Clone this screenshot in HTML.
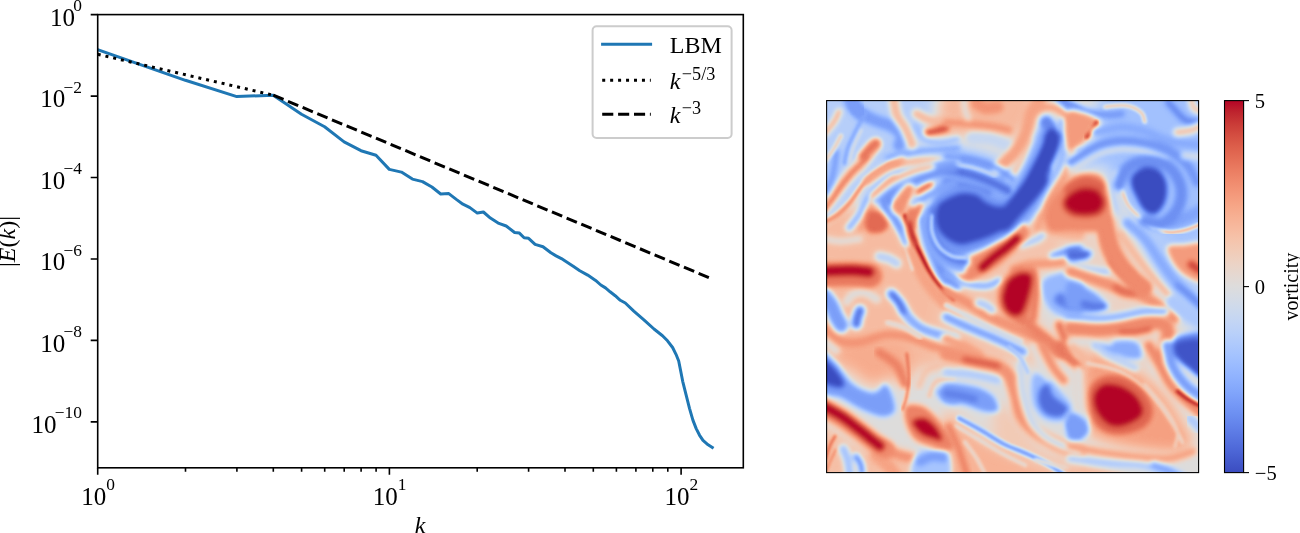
<!DOCTYPE html>
<html><head><meta charset="utf-8"><title>LBM spectrum and vorticity</title>
<style>html,body{margin:0;padding:0;background:#fff;width:1300px;height:533px;overflow:hidden}</style>
</head><body>
<svg width="1300" height="533" viewBox="0 0 1300 533" style="position:absolute;left:0;top:0;font-family:'Liberation Serif','DejaVu Serif',serif">
<rect width="1300" height="533" fill="#fff"/>
<defs><clipPath id="axc"><rect x="97.7" y="14.6" width="645.5999999999999" height="453.2"/></clipPath></defs>
<g clip-path="url(#axc)" fill="none">
<polyline points="97.6,49.7 185.4,80.3 236.8,96.6 273.2,95.2 301.5,114.2 324.6,126.8 344.1,141.9 361.0,150.7 376.0,155.2 389.3,169.4 401.4,172.1 412.4,179.1 422.5,181.6 431.9,187.0 440.7,194.0 448.8,193.6 456.3,199.4 462.9,204.2 469.9,207.6 477.3,213.1 483.4,212.0 490.4,218.1 498.9,223.4 506.2,226.0 514.6,232.5 519.4,233.1 524.1,237.8 528.6,238.3 535.1,244.4 543.0,246.7 550.9,252.8 556.1,255.9 561.4,258.6 566.7,262.0 573.2,266.2 579.8,270.7 587.7,275.1 595.6,280.4 600.8,285.0 605.5,287.9 610.1,291.8 615.2,295.7 620.3,300.3 625.3,303.0 633.8,311.1 643.9,319.8 654.0,329.0 662.5,335.7 667.5,340.8 672.6,347.5 676.0,354.3 678.7,361.0 680.4,369.5 682.7,381.3 686.1,394.8 689.5,408.3 692.9,420.1 696.2,428.6 699.6,435.3 703.0,440.4 708.1,444.8 712.3,447.5" stroke="#1f77b4" stroke-width="3" stroke-linejoin="round" stroke-linecap="square"/>
<line x1="97.7" y1="54.3" x2="273.3" y2="95.2" stroke="#000" stroke-width="3" stroke-dasharray="3 4.95"/>
<line x1="273.3" y1="95.2" x2="712.4" y2="279.1" stroke="#000" stroke-width="3" stroke-dasharray="11.1 4.8"/>
</g>
<rect x="97.7" y="14.6" width="645.6" height="453.2" fill="none" stroke="#000" stroke-width="1.6"/>
<path d="M97.7 467.8v7M185.5 467.8v4M236.9 467.8v4M273.3 467.8v4M301.6 467.8v4M324.7 467.8v4M344.2 467.8v4M361.1 467.8v4M376.1 467.8v4M389.4 467.8v7M477.2 467.8v4M528.6 467.8v4M565.0 467.8v4M593.3 467.8v4M616.4 467.8v4M635.9 467.8v4M652.8 467.8v4M667.8 467.8v4M681.1 467.8v7" stroke="#000" stroke-width="1.6" fill="none"/>
<path d="M97.7 14.6h-7M97.7 96.1h-7M97.7 177.5h-7M97.7 259.0h-7M97.7 340.4h-7M97.7 421.9h-7" stroke="#000" stroke-width="1.6" fill="none"/>
<text x="81.9" y="25.7" font-size="25" text-anchor="end">10<tspan font-size="17.4" dy="-14.6" dx="-1.8">0</tspan></text>
<text x="81.9" y="107.2" font-size="25" text-anchor="end">10<tspan font-size="17.4" dy="-14.6" dx="-1.8">−2</tspan></text>
<text x="81.9" y="188.6" font-size="25" text-anchor="end">10<tspan font-size="17.4" dy="-14.6" dx="-1.8">−4</tspan></text>
<text x="81.9" y="270.1" font-size="25" text-anchor="end">10<tspan font-size="17.4" dy="-14.6" dx="-1.8">−6</tspan></text>
<text x="81.9" y="351.5" font-size="25" text-anchor="end">10<tspan font-size="17.4" dy="-14.6" dx="-1.8">−8</tspan></text>
<text x="81.9" y="433.0" font-size="25" text-anchor="end">10<tspan font-size="17.4" dy="-14.6" dx="-1.8">−10</tspan></text>
<text x="98.0" y="504.6" font-size="25" text-anchor="middle">10<tspan font-size="17.4" dy="-14.4">0</tspan></text>
<text x="389.7" y="504.6" font-size="25" text-anchor="middle">10<tspan font-size="17.4" dy="-14.4">1</tspan></text>
<text x="681.4" y="504.6" font-size="25" text-anchor="middle">10<tspan font-size="17.4" dy="-14.4">2</tspan></text>
<text x="420.2" y="532.5" font-size="24" font-style="italic" text-anchor="middle">k</text>
<text transform="translate(15.2,241.5) rotate(-90)" font-size="24" text-anchor="middle">|<tspan font-style="italic">E</tspan>(<tspan font-style="italic">k</tspan>)|</text>
<rect x="592.6" y="26.3" width="139" height="111.7" rx="4" ry="4" fill="#fff" fill-opacity="0.8" stroke="#ccc" stroke-width="2"/>
<line x1="602.6" y1="44.2" x2="650.6" y2="44.2" stroke="#1f77b4" stroke-width="3" stroke-linecap="square"/>
<line x1="602.2" y1="80.2" x2="650.8" y2="80.2" stroke="#000" stroke-width="3" stroke-dasharray="3 4.95"/>
<line x1="602.2" y1="114.3" x2="650.8" y2="114.3" stroke="#000" stroke-width="3" stroke-dasharray="11.1 4.8"/>
<text x="669.8" y="52.6" font-size="24">LBM</text>
<text x="669.8" y="88.6" font-size="24"><tspan font-style="italic">k</tspan><tspan font-size="18.2" dy="-8.8" dx="1.4">−5/3</tspan></text>
<text x="669.8" y="122.6" font-size="24"><tspan font-style="italic">k</tspan><tspan font-size="18.2" dy="-8.8" dx="1.4">−3</tspan></text>
<defs>
<filter id="cm" x="0" y="0" width="1" height="1" color-interpolation-filters="sRGB"><feComponentTransfer><feFuncR type="table" tableValues="0.2298 0.2664 0.3042 0.3433 0.3837 0.4252 0.4677 0.5108 0.5543 0.5978 0.6408 0.6831 0.7240 0.7634 0.8006 0.8353 0.8674 0.8995 0.9256 0.9455 0.9595 0.9675 0.9697 0.9660 0.9567 0.9417 0.9214 0.8959 0.8654 0.8302 0.7906 0.7468 0.7057"/><feFuncG type="table" tableValues="0.2987 0.3533 0.4069 0.4594 0.5102 0.5591 0.6056 0.6494 0.6901 0.7273 0.7608 0.7900 0.8149 0.8351 0.8504 0.8605 0.8644 0.8475 0.8255 0.7986 0.7670 0.7308 0.6905 0.6461 0.5980 0.5464 0.4914 0.4331 0.3711 0.3047 0.2314 0.1400 0.0156"/><feFuncB type="table" tableValues="0.7537 0.8016 0.8453 0.8841 0.9178 0.9461 0.9685 0.9851 0.9955 0.9998 0.9978 0.9898 0.9757 0.9557 0.9300 0.8990 0.8626 0.8178 0.7711 0.7231 0.6741 0.6247 0.5751 0.5259 0.4773 0.4297 0.3834 0.3387 0.2958 0.2549 0.2162 0.1800 0.1502"/></feComponentTransfer></filter>
<filter id="b1" x="-50%" y="-50%" width="200%" height="200%" color-interpolation-filters="sRGB"><feGaussianBlur stdDeviation="1"/></filter>
<filter id="b2" x="-50%" y="-50%" width="200%" height="200%" color-interpolation-filters="sRGB"><feGaussianBlur stdDeviation="2"/></filter>
<filter id="b3" x="-50%" y="-50%" width="200%" height="200%" color-interpolation-filters="sRGB"><feGaussianBlur stdDeviation="3"/></filter>
<filter id="b4" x="-50%" y="-50%" width="200%" height="200%" color-interpolation-filters="sRGB"><feGaussianBlur stdDeviation="4"/></filter>
<filter id="b6" x="-50%" y="-50%" width="200%" height="200%" color-interpolation-filters="sRGB"><feGaussianBlur stdDeviation="6"/></filter>
<filter id="b8" x="-50%" y="-50%" width="200%" height="200%" color-interpolation-filters="sRGB"><feGaussianBlur stdDeviation="8"/></filter>
<filter id="b12" x="-50%" y="-50%" width="200%" height="200%" color-interpolation-filters="sRGB"><feGaussianBlur stdDeviation="12"/></filter>
<filter id="b16" x="-50%" y="-50%" width="200%" height="200%" color-interpolation-filters="sRGB"><feGaussianBlur stdDeviation="16"/></filter>
<linearGradient id="cbg" x1="0" y1="0" x2="0" y2="1"><stop offset="0.0000" stop-color="rgb(180,4,38)"/><stop offset="0.0312" stop-color="rgb(190,36,46)"/><stop offset="0.0625" stop-color="rgb(202,59,55)"/><stop offset="0.0938" stop-color="rgb(212,78,65)"/><stop offset="0.1250" stop-color="rgb(221,95,75)"/><stop offset="0.1562" stop-color="rgb(228,110,86)"/><stop offset="0.1875" stop-color="rgb(235,125,98)"/><stop offset="0.2188" stop-color="rgb(240,139,110)"/><stop offset="0.2500" stop-color="rgb(244,152,122)"/><stop offset="0.2812" stop-color="rgb(246,165,134)"/><stop offset="0.3125" stop-color="rgb(247,176,147)"/><stop offset="0.3438" stop-color="rgb(247,186,159)"/><stop offset="0.3750" stop-color="rgb(245,196,172)"/><stop offset="0.4062" stop-color="rgb(241,204,184)"/><stop offset="0.4375" stop-color="rgb(236,211,197)"/><stop offset="0.4688" stop-color="rgb(229,216,209)"/><stop offset="0.5000" stop-color="rgb(221,220,220)"/><stop offset="0.5312" stop-color="rgb(213,219,229)"/><stop offset="0.5625" stop-color="rgb(204,217,237)"/><stop offset="0.5938" stop-color="rgb(195,213,244)"/><stop offset="0.6250" stop-color="rgb(185,208,249)"/><stop offset="0.6562" stop-color="rgb(174,201,252)"/><stop offset="0.6875" stop-color="rgb(163,194,254)"/><stop offset="0.7188" stop-color="rgb(152,185,255)"/><stop offset="0.7500" stop-color="rgb(141,176,254)"/><stop offset="0.7812" stop-color="rgb(130,166,251)"/><stop offset="0.8125" stop-color="rgb(119,154,247)"/><stop offset="0.8438" stop-color="rgb(108,143,241)"/><stop offset="0.8750" stop-color="rgb(98,130,234)"/><stop offset="0.9062" stop-color="rgb(88,117,225)"/><stop offset="0.9375" stop-color="rgb(78,104,216)"/><stop offset="0.9688" stop-color="rgb(68,90,204)"/><stop offset="1.0000" stop-color="rgb(59,76,192)"/></linearGradient>
</defs>
<svg x="826.6" y="100.6" width="372.0" height="372.0" viewBox="0 0 372 372" overflow="hidden">
<g filter="url(#cm)">
<rect x="-40" y="-40" width="452" height="452" fill="#808080"/>
<defs><filter id="z1_6" x="-20%" y="-20%" width="140%" height="140%" color-interpolation-filters="sRGB"><feGaussianBlur stdDeviation="1.6"/></filter><filter id="z2_8" x="-20%" y="-20%" width="140%" height="140%" color-interpolation-filters="sRGB"><feGaussianBlur stdDeviation="2.8"/></filter><filter id="z7" x="-20%" y="-20%" width="140%" height="140%" color-interpolation-filters="sRGB"><feGaussianBlur stdDeviation="7"/></filter></defs>
<g filter="url(#z7)">
<path d="M-13.6 -13.6C6.2 -37.6 86.5 -21.7 105.1 -13.6C123.7 -5.4 102.8 23.3 98.1 35.3C93.5 47.3 85.7 51.6 77.2 58.6C68.6 65.5 57.4 68.3 46.9 77.2C36.5 86.1 24.4 103.2 14.4 112.1C4.3 121.0 -8.9 151.6 -13.6 130.7C-18.2 109.7 -33.3 10.5 -13.6 -13.6Z" fill="#5e5e5e"/>
<path d="M-8.9 117.4C9.3 93.8 80.7 108.5 100.4 117.4C120.2 126.3 103.9 157.0 109.7 170.9C115.6 184.9 131.1 186.4 135.3 201.2C139.6 215.9 159.4 249.6 135.3 259.3C111.3 269.0 15.1 283.0 -8.9 259.3C-32.9 235.7 -27.1 141.1 -8.9 117.4Z" fill="#a6a6a6"/>
<path d="M9.7 241.4C17.5 236.0 62.4 237.9 74.8 241.4C87.3 244.9 83.0 255.4 84.2 262.4C85.3 269.3 85.6 280.7 81.8 283.3C78.0 285.9 67.0 277.8 61.4 278.2C55.7 278.6 53.6 286.3 48.1 285.6C42.6 284.9 34.7 281.4 28.3 274.0C21.9 266.6 2.0 246.8 9.7 241.4Z" fill="#b2b2b2"/>
<path d="M-6.6 325.2C0.4 319.7 21.3 341.8 35.3 346.1C49.3 350.4 67.5 345.3 77.2 350.8C86.9 356.2 107.4 374.0 93.5 378.7C79.5 383.3 10.1 387.6 -6.6 378.7C-23.3 369.8 -13.6 330.6 -6.6 325.2Z" fill="#a3a3a3"/>
<path d="M117.4 -8.9C131.8 -15.9 189.5 -14.3 203.5 -8.9C217.5 -3.5 204.7 15.9 201.2 23.7C197.7 31.4 191.5 35.7 182.6 37.6C173.6 39.6 158.5 36.1 147.7 35.3C136.8 34.5 122.5 40.3 117.4 33.0C112.4 25.6 103.1 -1.9 117.4 -8.9Z" fill="#a8a8a8"/>
<path d="M115.1 53.9C121.3 44.8 140.7 50.0 152.3 52.7C163.9 55.5 177.9 62.6 184.9 70.2C191.9 77.8 196.5 91.1 194.2 98.1C191.9 105.1 184.1 110.5 170.9 112.1C157.7 113.6 124.4 117.1 115.1 107.4C105.8 97.7 108.9 63.0 115.1 53.9Z" fill="#3d3d3d"/>
<path d="M138.4 166.3C151.2 155.0 174.0 125.6 194.2 117.4C214.4 109.3 248.5 108.5 259.3 117.4C270.2 126.3 267.1 162.0 259.3 170.9C251.6 179.8 220.6 162.4 212.8 170.9C205.1 179.5 205.1 208.2 212.8 222.1C220.6 236.1 275.2 248.5 259.3 254.7C243.4 260.9 141.1 271.0 117.4 259.3C93.8 247.7 113.9 200.4 117.4 184.9C120.9 169.4 125.6 177.5 138.4 166.3Z" fill="#9e9e9e"/>
<path d="M117.4 314.7C120.9 304.6 131.0 318.4 138.4 322.8C145.7 327.3 153.1 335.6 161.6 341.5C170.2 347.3 180.2 353.9 189.5 357.7C198.8 361.6 206.6 363.6 217.5 364.7C228.3 365.9 248.5 361.6 254.7 364.7C260.9 367.8 277.6 380.2 254.7 383.3C231.8 386.4 140.3 394.8 117.4 383.3C94.5 371.9 113.9 324.8 117.4 314.7Z" fill="#adadad"/>
<path d="M170.9 301.9C175.6 298.8 186.4 310.8 194.2 318.2C201.9 325.6 207.4 339.9 217.5 346.1C227.5 352.3 248.5 350.0 254.7 355.4C260.9 360.8 264.8 377.9 254.7 378.7C244.6 379.5 208.9 367.0 194.2 360.1C179.5 353.1 170.2 346.5 166.3 336.8C162.4 327.1 166.3 305.0 170.9 301.9Z" fill="#999999"/>
<path d="M278.6 -8.9C297.3 -16.3 365.9 -32.9 383.3 -8.9C400.8 15.1 399.6 111.3 383.3 135.3C367.0 159.4 302.3 146.2 285.6 135.3C269.0 124.5 290.3 81.8 283.3 70.2C276.3 58.6 245.7 71.4 243.7 65.5C241.8 59.7 265.8 47.7 271.7 35.3C277.5 22.9 260.0 -1.5 278.6 -8.9Z" fill="#4f4f4f"/>
<path d="M241.4 117.4C251.9 107.3 290.3 108.5 304.2 117.4C318.2 126.3 317.0 154.3 325.2 170.9C333.3 187.6 349.2 202.7 353.1 217.5C357.0 232.2 367.0 252.4 348.4 259.3C329.8 266.3 259.3 266.3 241.4 259.3C223.6 252.4 234.4 227.2 241.4 217.5C248.4 207.8 283.3 207.8 283.3 201.2C283.3 194.6 248.4 191.9 241.4 177.9C234.4 163.9 231.0 127.5 241.4 117.4Z" fill="#8f8f8f"/>
<path d="M304.2 117.4C304.2 108.5 312.0 104.6 325.2 117.4C338.4 130.2 373.6 175.2 383.3 194.2C393.0 213.2 388.8 227.5 383.3 231.4C377.9 235.3 360.5 227.5 350.8 217.5C341.1 207.4 332.9 187.6 325.2 170.9C317.4 154.3 304.2 126.3 304.2 117.4Z" fill="#5c5c5c"/>
<path d="M255.4 260.0C257.8 253.2 265.1 253.6 271.7 254.2C278.3 254.8 287.2 260.0 294.9 263.5C302.7 267.0 310.4 269.3 318.2 275.2C325.9 281.0 334.9 290.1 341.5 298.4C348.0 306.8 353.7 317.8 357.7 325.2C361.8 332.5 367.0 338.2 365.9 342.6C364.7 347.1 358.7 350.8 350.8 351.9C342.8 353.1 329.4 351.2 318.2 349.6C306.9 348.0 292.8 345.7 283.3 342.6C273.8 339.5 265.5 338.9 261.2 331.0C256.9 323.0 258.2 306.8 257.2 294.9C256.3 283.1 253.0 266.8 255.4 260.0Z" fill="#bababa"/>
</g>
<g filter="url(#z2_8)">
<path d="M48.1 44.6C46.0 47.5 39.4 57.4 35.3 62.3C31.2 67.2 27.5 69.5 23.7 73.9C19.8 78.4 16.3 82.9 12.0 89.0C7.8 95.2 0.4 107.3 -1.9 110.9" fill="none" stroke="#a8a8a8" stroke-width="12.6" stroke-linecap="round" stroke-linejoin="round"/>
</g>
<g filter="url(#z1_6)">
<path d="M39.9 56.2C39.2 57.2 38.0 59.3 35.3 62.3C32.6 65.2 27.5 69.5 23.7 73.9C19.8 78.4 16.3 82.9 12.0 89.0C7.8 95.2 0.4 107.3 -1.9 110.9" fill="none" stroke="#c7c7c7" stroke-width="5.0" stroke-linecap="round" stroke-linejoin="round"/>
</g>
<g filter="url(#z2_8)">
<path d="M130.7 47.6C124.5 48.1 103.5 49.2 93.5 50.4C83.4 51.7 76.4 53.5 70.2 55.1C64.0 56.6 58.6 58.9 56.2 59.7" fill="none" stroke="#3d3d3d" stroke-width="7.5" stroke-linecap="round" stroke-linejoin="round"/>
<path d="M56.2 59.7C53.9 62.1 46.7 69.6 42.3 73.9C37.8 78.2 33.9 81.1 29.5 85.5C25.0 90.0 20.8 95.0 15.5 100.7C10.3 106.3 1.0 116.4 -1.9 119.5" fill="none" stroke="#616161" stroke-width="6.3" stroke-linecap="round" stroke-linejoin="round"/>
<path d="M130.7 59.7C124.5 59.8 103.5 59.9 93.5 60.4C83.4 60.9 75.4 62.1 70.2 62.7C65.0 63.4 63.6 64.3 62.3 64.6" fill="none" stroke="#a8a8a8" stroke-width="6.3" stroke-linecap="round" stroke-linejoin="round"/>
</g>
<g filter="url(#z1_6)">
<path d="M70.2 62.7C68.9 63.1 66.2 62.7 62.3 64.6C58.4 66.5 51.4 70.4 46.9 73.9C42.4 77.4 39.2 80.9 35.3 85.5C31.4 90.2 27.5 97.2 23.7 101.8C19.8 106.5 16.3 110.1 12.0 113.5C7.8 116.8 0.4 120.4 -1.9 121.8" fill="none" stroke="#c2c2c2" stroke-width="5.0" stroke-linecap="round" stroke-linejoin="round"/>
</g>
<g filter="url(#z2_8)">
<path d="M130.7 70.2C124.5 70.4 103.5 70.9 93.5 71.4C83.4 71.8 75.4 72.4 70.2 73.0C65.0 73.6 64.6 74.0 62.3 75.1C60.0 76.2 58.8 77.4 56.2 79.7C53.7 82.1 49.8 85.5 46.9 89.0C44.0 92.5 41.1 96.6 38.8 100.7C36.5 104.7 35.7 109.0 33.0 113.5C30.3 117.9 24.2 124.9 22.5 127.2" fill="none" stroke="#424242" stroke-width="6.9" stroke-linecap="round" stroke-linejoin="round"/>
<path d="M55.1 94.6C56.1 94.9 60.2 94.9 61.4 96.2C62.6 97.6 62.1 101.7 62.3 102.8" fill="none" stroke="#1f1f1f" stroke-width="7.5" stroke-linecap="round" stroke-linejoin="round"/>
<path d="M67.9 78.3C66.9 79.0 65.2 79.3 62.3 82.1C59.4 84.8 53.6 90.4 50.4 94.9C47.3 99.3 46.2 103.4 43.4 108.8C40.7 114.2 35.7 124.1 34.1 127.2" fill="none" stroke="#bababa" stroke-width="7.5" stroke-linecap="round" stroke-linejoin="round"/>
<path d="M-0.8 91.1C0.2 89.0 3.5 83.4 5.1 78.6C6.6 73.8 7.8 66.8 8.5 62.3C9.3 57.8 9.5 53.4 9.7 51.6" fill="none" stroke="#333333" stroke-width="6.9" stroke-linecap="round" stroke-linejoin="round"/>
<path d="M21.3 -4.3C22.9 -1.9 26.4 5.8 30.6 9.7C34.9 13.6 41.1 16.3 46.9 19.0C52.7 21.7 60.8 23.3 65.5 26.0C70.3 28.7 74.1 32.2 75.3 35.3C76.5 38.4 73.0 43.1 72.5 44.6" fill="none" stroke="#333333" stroke-width="12.6" stroke-linecap="round" stroke-linejoin="round"/>
<path d="M66.7 -4.3C67.3 -1.2 68.3 9.1 70.2 14.4C72.1 19.6 75.8 22.3 78.3 27.2C80.9 32.0 84.2 40.7 85.3 43.4" fill="none" stroke="#a6a6a6" stroke-width="10.1" stroke-linecap="round" stroke-linejoin="round"/>
<path d="M90.0 13.2C92.5 14.4 98.3 19.0 105.1 20.2C111.9 21.3 126.4 20.2 130.7 20.2" fill="none" stroke="#a6a6a6" stroke-width="9.4" stroke-linecap="round" stroke-linejoin="round"/>
<path d="M101.6 31.8C103.2 31.5 108.0 30.8 110.9 30.2C113.8 29.5 117.7 28.2 119.0 27.9" fill="none" stroke="#e6e6e6" stroke-width="8.2" stroke-linecap="round" stroke-linejoin="round"/>
<path d="M88.8 26.0C90.4 28.1 94.2 36.1 98.1 38.8C102.0 41.5 106.6 42.3 112.1 42.3C117.5 42.3 127.6 39.4 130.7 38.8" fill="none" stroke="#4c4c4c" stroke-width="6.3" stroke-linecap="round" stroke-linejoin="round"/>
<path d="M49.7 42.7C48.9 43.4 46.8 44.8 44.6 46.9C42.4 49.1 37.8 54.3 36.5 55.8" fill="none" stroke="#d4d4d4" stroke-width="9.4" stroke-linecap="round" stroke-linejoin="round"/>
<path d="M103.9 83.7C103.0 84.2 100.0 85.6 98.1 86.9C96.2 88.3 93.3 90.8 92.3 91.6" fill="none" stroke="#dbdbdb" stroke-width="5.7" stroke-linecap="round" stroke-linejoin="round"/>
<path d="M78.3 94.6C77.8 96.0 76.2 99.9 74.8 102.8C73.5 105.7 71.0 110.5 70.2 112.1" fill="none" stroke="#c2c2c2" stroke-width="11.9" stroke-linecap="round" stroke-linejoin="round"/>
<path d="M90.0 106.3C89.2 107.6 86.7 110.3 85.3 114.4C84.0 118.5 82.4 128.0 81.8 130.7" fill="none" stroke="#cccccc" stroke-width="10.7" stroke-linecap="round" stroke-linejoin="round"/>
<path d="M-1.9 33.0C-0.3 31.0 5.4 24.6 7.8 20.9C10.2 17.2 11.7 12.5 12.5 10.9" fill="none" stroke="#b2b2b2" stroke-width="5.7" stroke-linecap="round" stroke-linejoin="round"/>
</g>
<g filter="url(#z1_6)">
<path d="M38.8 12.0C37.2 14.9 32.4 23.7 29.5 29.5C26.6 35.3 23.3 41.5 21.3 46.9C19.4 52.4 18.4 59.7 17.8 62.3" fill="none" stroke="#3d3d3d" stroke-width="4.4" stroke-linecap="round" stroke-linejoin="round"/>
<path d="M34.6 29.5C33.2 32.4 28.4 41.5 26.5 46.9C24.5 52.4 23.4 59.7 22.7 62.3" fill="none" stroke="#7a7a7a" stroke-width="3.1" stroke-linecap="round" stroke-linejoin="round"/>
</g>
<g filter="url(#z2_8)">
<path d="M26.0 0.4C26.8 1.6 29.1 5.4 30.6 7.4C32.2 9.3 34.5 11.3 35.3 12.0" fill="none" stroke="#333333" stroke-width="11.3" stroke-linecap="round" stroke-linejoin="round"/>
</g>
<g filter="url(#z1_6)">
<path d="M-1.9 60.9C-0.4 58.8 4.7 52.4 7.4 48.1C10.1 43.8 13.2 37.4 14.4 35.3" fill="none" stroke="#949494" stroke-width="4.4" stroke-linecap="round" stroke-linejoin="round"/>
</g>
<g filter="url(#z2_8)">
<path d="M24.8 3.9L33.0 14.4" fill="none" stroke="#333333" stroke-width="9.4" stroke-linecap="round" stroke-linejoin="round"/>
<path d="M43.4 123.2C44.6 123.7 48.3 126.1 50.4 126.3C52.6 126.5 55.3 124.7 56.2 124.4" fill="none" stroke="#cccccc" stroke-width="8.8" stroke-linecap="round" stroke-linejoin="round"/>
<path d="M-1.9 138.4C0.8 138.7 8.5 140.7 14.4 140.7C20.2 140.7 29.9 138.7 33.0 138.4" fill="none" stroke="#808080" stroke-width="6.3" stroke-linecap="round" stroke-linejoin="round"/>
<path d="M52.7 155.8C54.3 156.2 59.1 157.0 62.1 158.1C65.0 159.3 68.8 162.0 70.2 162.8" fill="none" stroke="#616161" stroke-width="9.4" stroke-linecap="round" stroke-linejoin="round"/>
</g>
<g filter="url(#z1_6)">
<path d="M69.0 122.1C70.4 124.8 75.0 132.7 77.2 138.4C79.4 144.0 80.7 150.8 82.3 155.8C83.8 160.8 85.8 166.5 86.5 168.6" fill="none" stroke="#4c4c4c" stroke-width="2.8" stroke-linecap="round" stroke-linejoin="round"/>
</g>
<g filter="url(#z2_8)">
<path d="M74.8 122.1C76.8 127.1 82.6 143.0 86.5 152.3C90.4 161.6 93.1 169.8 98.1 177.9C103.2 186.1 111.3 195.4 116.7 201.2C122.2 207.0 128.4 210.9 130.7 212.8" fill="none" stroke="#b8b8b8" stroke-width="12.6" stroke-linecap="round" stroke-linejoin="round"/>
</g>
<g filter="url(#z1_6)">
<path d="M78.3 115.1C79.0 117.4 80.0 123.2 82.3 129.1C84.6 134.9 89.0 143.3 92.3 150.0C95.6 156.7 98.5 163.2 102.1 169.1C105.6 175.0 109.5 180.5 113.7 185.4C117.9 190.2 124.9 196.2 127.2 198.4" fill="none" stroke="#ffffff" stroke-width="4.7" stroke-linecap="round" stroke-linejoin="round"/>
<path d="M90.0 129.1C91.5 132.5 96.0 143.2 99.3 150.0C102.6 156.8 105.1 163.2 109.7 169.8C114.4 176.4 124.3 186.2 127.2 189.5" fill="none" stroke="#858585" stroke-width="2.5" stroke-linecap="round" stroke-linejoin="round"/>
</g>
<g filter="url(#z2_8)">
<path d="M99.3 119.7C100.4 124.4 103.5 139.1 106.3 147.7C109.0 156.2 111.9 164.5 115.6 170.9C119.2 177.3 126.2 183.5 128.4 186.1" fill="none" stroke="#2e2e2e" stroke-width="12.6" stroke-linecap="round" stroke-linejoin="round"/>
<path d="M64.4 193.0C65.8 194.6 70.0 198.3 73.0 202.3C76.0 206.4 78.8 213.3 82.3 217.5C85.8 221.6 88.9 224.4 93.9 227.2C99.0 230.0 106.8 232.3 112.5 234.2C118.3 236.1 125.7 238.1 128.4 238.9" fill="none" stroke="#3d3d3d" stroke-width="10.1" stroke-linecap="round" stroke-linejoin="round"/>
<path d="M66.7 194.2C67.7 195.6 71.0 199.6 72.5 202.3C74.1 205.1 75.4 209.1 76.0 210.5" fill="none" stroke="#1a1a1a" stroke-width="8.2" stroke-linecap="round" stroke-linejoin="round"/>
<path d="M33.4 210.0C33.0 211.3 31.3 215.2 30.6 217.5C30.0 219.7 29.9 222.3 29.7 223.3" fill="none" stroke="#1c1c1c" stroke-width="10.7" stroke-linecap="round" stroke-linejoin="round"/>
<path d="M-5.4 191.9C-3.9 193.8 1.4 199.4 3.9 203.5C6.4 207.6 8.0 212.8 9.7 216.3C11.5 219.8 13.6 223.1 14.4 224.4" fill="none" stroke="#333333" stroke-width="15.7" stroke-linecap="round" stroke-linejoin="round"/>
<path d="M20.2 201.2C21.1 200.0 23.1 195.7 26.0 194.2C28.9 192.6 33.6 191.1 37.6 191.9C41.7 192.6 48.3 197.7 50.4 198.8" fill="none" stroke="#808080" stroke-width="8.2" stroke-linecap="round" stroke-linejoin="round"/>
<path d="M-1.9 227.9C0.8 230.1 8.2 238.5 14.4 240.7C20.6 242.9 27.9 242.3 35.3 241.2C42.7 240.1 50.8 235.0 58.6 234.2C66.3 233.4 74.1 234.7 81.8 236.5C89.6 238.4 97.3 242.9 105.1 245.4C112.8 247.8 124.5 250.2 128.4 251.2" fill="none" stroke="#c2c2c2" stroke-width="8.8" stroke-linecap="round" stroke-linejoin="round"/>
<path d="M-1.9 240.7L9.7 250.0" fill="none" stroke="#808080" stroke-width="7.5" stroke-linecap="round" stroke-linejoin="round"/>
</g>
<g filter="url(#z1_6)">
<path d="M60.9 222.1C63.6 222.9 71.7 224.4 77.2 226.8C82.6 229.1 90.7 234.5 93.5 236.1" fill="none" stroke="#858585" stroke-width="5.0" stroke-linecap="round" stroke-linejoin="round"/>
</g>
<g filter="url(#z2_8)">
<path d="M52.7 251.9C55.7 254.0 65.9 259.5 70.2 264.7C74.5 269.9 77.0 280.2 78.3 283.3" fill="none" stroke="#cccccc" stroke-width="9.4" stroke-linecap="round" stroke-linejoin="round"/>
</g>
<g filter="url(#z1_6)">
<path d="M80.2 253.1C80.5 256.9 82.3 269.1 82.3 276.3C82.3 283.5 81.0 290.7 80.0 296.1C78.9 301.5 76.7 306.8 76.0 308.9" fill="none" stroke="#dbdbdb" stroke-width="2.8" stroke-linecap="round" stroke-linejoin="round"/>
</g>
<g filter="url(#z2_8)">
<path d="M92.3 285.6C93.7 283.0 96.4 273.3 100.4 269.8C104.5 266.3 112.1 265.1 116.7 264.7C121.4 264.3 126.4 267.0 128.4 267.5" fill="none" stroke="#a1a1a1" stroke-width="5.7" stroke-linecap="round" stroke-linejoin="round"/>
</g>
<g filter="url(#z1_6)">
<path d="M102.8 294.9C103.9 292.6 105.7 283.7 109.7 281.0C113.8 278.3 124.3 279.0 127.2 278.6" fill="none" stroke="#999999" stroke-width="5.0" stroke-linecap="round" stroke-linejoin="round"/>
</g>
<g filter="url(#z2_8)">
<path d="M109.3 289.8C110.1 287.4 117.8 286.7 121.4 286.8C124.9 286.9 129.1 287.6 130.7 290.3C132.2 293.0 133.0 301.2 130.7 303.1C128.4 304.9 120.3 303.7 116.7 301.4C113.2 299.2 108.5 292.3 109.3 289.8Z" fill="#3d3d3d"/>
<path d="M-6.6 250.7C-3.9 246.2 4.3 256.5 9.7 261.9C15.1 267.2 19.8 277.9 26.0 282.8C32.2 287.8 41.5 291.6 46.9 291.7C52.4 291.7 55.4 282.8 58.6 283.3C61.7 283.8 64.4 290.4 66.0 294.9C67.6 299.5 70.0 307.2 68.3 310.7C66.7 314.3 61.7 316.6 56.2 316.3C50.7 316.1 42.3 312.5 35.3 309.4C28.3 306.3 21.3 301.1 14.4 297.7C7.4 294.3 -3.1 296.9 -6.6 289.1C-10.1 281.3 -9.3 255.3 -6.6 250.7Z" fill="#333333"/>
<path d="M-6.6 256.5C-4.3 254.6 3.3 262.6 7.4 267.0C11.5 271.5 17.5 280.0 17.8 283.3C18.2 286.6 13.8 287.6 9.7 286.8C5.6 286.0 -3.9 283.7 -6.6 278.6C-9.3 273.6 -8.9 258.5 -6.6 256.5Z" fill="#000000"/>
<path d="M-4.3 297.7C-0.4 299.7 11.3 305.1 19.0 309.4C26.8 313.6 35.3 319.1 42.3 323.3C49.3 327.5 54.9 331.8 60.9 334.5C66.9 337.2 75.4 338.7 78.3 339.6" fill="none" stroke="#808080" stroke-width="6.9" stroke-linecap="round" stroke-linejoin="round"/>
<path d="M52.7 344.2C55.7 345.8 63.4 351.3 70.2 353.6C77.0 355.8 85.7 358.5 93.5 357.7C101.2 357.0 112.8 350.4 116.7 348.9" fill="none" stroke="#c2c2c2" stroke-width="10.7" stroke-linecap="round" stroke-linejoin="round"/>
<path d="M49.3 355.4C51.2 357.0 57.4 361.2 60.9 364.7C64.4 368.2 68.6 374.4 70.2 376.4" fill="none" stroke="#b8b8b8" stroke-width="12.6" stroke-linecap="round" stroke-linejoin="round"/>
</g>
<g filter="url(#z1_6)">
<path d="M-0.8 357.7C0.0 355.4 2.3 347.5 3.9 343.8C5.4 340.1 7.8 337.0 8.5 335.6" fill="none" stroke="#dbdbdb" stroke-width="3.1" stroke-linecap="round" stroke-linejoin="round"/>
<path d="M-0.8 371.7C0.0 369.8 2.1 363.9 3.9 360.1C5.6 356.2 8.7 350.4 9.7 348.4" fill="none" stroke="#cccccc" stroke-width="2.5" stroke-linecap="round" stroke-linejoin="round"/>
</g>
<g filter="url(#z2_8)">
<path d="M16.7 348.4C17.5 350.4 20.2 355.4 21.3 360.1C22.5 364.7 23.3 373.6 23.7 376.4" fill="none" stroke="#525252" stroke-width="9.4" stroke-linecap="round" stroke-linejoin="round"/>
<path d="M29.5 355.9C30.3 357.2 33.2 360.9 34.1 363.6C35.1 366.2 35.1 370.3 35.3 371.7" fill="none" stroke="#1f1f1f" stroke-width="6.3" stroke-linecap="round" stroke-linejoin="round"/>
<path d="M90.0 351.9C93.8 346.9 104.3 348.2 109.7 348.4C115.2 348.6 120.6 348.0 122.5 353.1C124.5 358.1 127.4 374.4 121.4 378.7C115.4 382.9 91.7 383.1 86.5 378.7C81.2 374.2 86.1 357.0 90.0 351.9Z" fill="#525252"/>
<path d="M93.5 361.2C95.4 360.3 101.2 356.5 105.1 355.9C109.0 355.2 114.8 357.0 116.7 357.3" fill="none" stroke="#333333" stroke-width="9.4" stroke-linecap="round" stroke-linejoin="round"/>
<path d="M119.7 21.8C124.4 22.1 139.1 22.9 147.7 23.7C156.2 24.4 165.1 25.5 170.9 26.5C176.7 27.4 180.6 29.0 182.6 29.5" fill="none" stroke="#c2c2c2" stroke-width="6.9" stroke-linecap="round" stroke-linejoin="round"/>
<path d="M150.0 2.7C151.5 3.5 155.8 6.8 159.3 7.4C162.8 8.0 169.0 6.4 170.9 6.2" fill="none" stroke="#c2c2c2" stroke-width="12.6" stroke-linecap="round" stroke-linejoin="round"/>
<path d="M137.2 -1.9C137.4 0.0 137.6 6.4 138.4 9.7C139.1 13.0 141.3 16.5 141.8 17.8" fill="none" stroke="#808080" stroke-width="5.7" stroke-linecap="round" stroke-linejoin="round"/>
<path d="M145.3 37.6C148.4 37.8 158.1 37.6 163.9 38.8C169.8 39.9 177.5 43.6 180.2 44.6" fill="none" stroke="#6b6b6b" stroke-width="12.6" stroke-linecap="round" stroke-linejoin="round"/>
<path d="M170.9 67.9C173.6 65.3 182.6 58.6 187.2 52.7C191.9 46.9 195.9 39.8 198.8 33.0C201.8 26.2 201.9 18.2 204.7 12.0C207.4 5.8 213.4 -1.5 215.1 -4.3" fill="none" stroke="#b8b8b8" stroke-width="12.6" stroke-linecap="round" stroke-linejoin="round"/>
<path d="M183.7 77.2C185.9 74.5 192.8 66.7 196.5 60.9C200.2 55.1 204.3 45.4 205.8 42.3" fill="none" stroke="#9e9e9e" stroke-width="8.2" stroke-linecap="round" stroke-linejoin="round"/>
<path d="M204.7 16.7C206.0 15.3 209.1 10.2 212.8 8.5C216.5 6.9 222.1 5.8 226.8 6.9C231.4 8.1 236.7 12.1 240.7 15.5C244.8 18.9 249.4 25.2 251.2 27.2" fill="none" stroke="#b8b8b8" stroke-width="8.2" stroke-linecap="round" stroke-linejoin="round"/>
<path d="M119.7 56.2C124.4 56.8 139.1 57.8 147.7 59.7C156.2 61.7 164.5 64.8 170.9 67.9C177.3 71.0 183.5 76.6 186.1 78.3" fill="none" stroke="#2e2e2e" stroke-width="6.9" stroke-linecap="round" stroke-linejoin="round"/>
<path d="M119.7 68.3C124.0 69.3 137.6 72.1 145.3 74.4C153.1 76.7 160.3 79.7 166.3 82.3C172.3 84.9 178.9 88.7 181.4 90.0" fill="none" stroke="#141414" stroke-width="7.5" stroke-linecap="round" stroke-linejoin="round"/>
<path d="M119.7 81.8C123.6 82.7 136.0 85.2 143.0 86.9C150.0 88.7 158.5 91.4 161.6 92.3" fill="none" stroke="#242424" stroke-width="6.9" stroke-linecap="round" stroke-linejoin="round"/>
</g>
<g filter="url(#z1_6)">
<path d="M119.7 62.7C124.0 63.4 137.2 64.7 145.3 66.7C153.5 68.7 164.7 73.5 168.6 74.8" fill="none" stroke="#707070" stroke-width="3.1" stroke-linecap="round" stroke-linejoin="round"/>
</g>
<g filter="url(#z2_8)">
<path d="M190.7 86.5C192.8 82.2 199.6 69.4 203.5 60.9C207.4 52.4 211.3 41.9 214.0 35.3C216.7 28.7 218.8 23.7 219.8 21.3" fill="none" stroke="#424242" stroke-width="9.4" stroke-linecap="round" stroke-linejoin="round"/>
<path d="M234.9 22.5C235.3 26.6 238.4 37.8 237.2 46.9C236.1 56.0 231.8 68.3 227.9 77.2C224.0 86.1 219.6 92.1 214.0 100.4C208.3 108.8 197.5 122.7 194.2 127.2" fill="none" stroke="#4c4c4c" stroke-width="8.8" stroke-linecap="round" stroke-linejoin="round"/>
<path d="M251.2 50.4C249.1 54.5 242.9 67.1 238.4 74.8C233.9 82.6 228.9 88.2 224.4 96.9C220.0 105.7 213.8 122.2 211.6 127.2" fill="none" stroke="#b8b8b8" stroke-width="9.4" stroke-linecap="round" stroke-linejoin="round"/>
<path d="M217.5 116.7L229.1 127.2" fill="none" stroke="#b8b8b8" stroke-width="15.7" stroke-linecap="round" stroke-linejoin="round"/>
<path d="M232.6 33.0C233.9 34.1 237.6 37.4 240.7 39.9C243.8 42.5 249.4 46.7 251.2 48.1" fill="none" stroke="#474747" stroke-width="6.9" stroke-linecap="round" stroke-linejoin="round"/>
<path d="M232.6 -3.1C234.3 -1.7 239.8 2.7 243.0 5.1C246.3 7.4 250.8 9.9 252.4 10.9" fill="none" stroke="#292929" stroke-width="9.4" stroke-linecap="round" stroke-linejoin="round"/>
<path d="M194.2 144.2C196.9 143.3 206.8 140.6 210.5 138.8C214.2 137.1 215.3 134.6 216.3 133.7" fill="none" stroke="#575757" stroke-width="6.9" stroke-linecap="round" stroke-linejoin="round"/>
<path d="M226.8 155.8C229.1 154.9 236.5 151.7 240.7 150.5C245.0 149.2 250.4 148.5 252.4 148.1" fill="none" stroke="#333333" stroke-width="8.2" stroke-linecap="round" stroke-linejoin="round"/>
<path d="M219.8 126.7C222.5 127.5 230.6 130.2 236.1 131.4C241.5 132.5 249.6 133.3 252.4 133.7" fill="none" stroke="#adadad" stroke-width="12.6" stroke-linecap="round" stroke-linejoin="round"/>
<path d="M187.2 168.6C189.9 167.8 197.7 164.9 203.5 163.9C209.3 163.0 214.0 163.6 222.1 162.8C230.3 162.0 247.3 159.9 252.4 159.3" fill="none" stroke="#bdbdbd" stroke-width="9.4" stroke-linecap="round" stroke-linejoin="round"/>
<path d="M216.3 180.2C218.9 175.6 227.3 173.4 233.7 172.1C240.1 170.7 251.2 164.7 254.7 172.1C258.2 179.5 258.8 209.3 254.7 216.3C250.6 223.3 236.4 216.7 230.3 214.0C224.1 211.3 220.2 205.6 217.9 200.0C215.6 194.4 213.7 184.9 216.3 180.2Z" fill="#474747"/>
<path d="M233.7 198.8C235.3 199.4 239.6 201.9 243.0 202.3C246.5 202.7 252.7 201.4 254.7 201.2" fill="none" stroke="#1f1f1f" stroke-width="12.6" stroke-linecap="round" stroke-linejoin="round"/>
<path d="M119.7 173.3C122.8 174.8 131.8 180.5 138.4 182.6C145.0 184.6 153.7 185.7 159.3 185.4C164.9 185.0 170.0 181.1 172.1 180.2" fill="none" stroke="#3d3d3d" stroke-width="6.9" stroke-linecap="round" stroke-linejoin="round"/>
<path d="M119.7 190.7C123.6 192.8 135.3 199.0 143.0 203.5C150.8 208.0 157.7 213.1 166.3 217.5C174.8 221.8 185.7 225.6 194.2 229.6C202.7 233.5 211.3 237.4 217.5 241.2C223.7 245.0 229.1 250.5 231.4 252.4" fill="none" stroke="#c2c2c2" stroke-width="10.7" stroke-linecap="round" stroke-linejoin="round"/>
</g>
<g filter="url(#z1_6)">
<path d="M119.7 204.7C123.6 206.6 135.3 212.4 143.0 216.3C150.8 220.2 157.7 223.9 166.3 227.9C174.8 232.0 189.5 238.6 194.2 240.7" fill="none" stroke="#7a7a7a" stroke-width="5.0" stroke-linecap="round" stroke-linejoin="round"/>
</g>
<g filter="url(#z2_8)">
<path d="M119.7 216.3C123.6 218.1 134.5 223.5 143.0 227.2C151.5 231.0 162.0 234.9 170.9 238.9C179.8 242.9 192.3 249.1 196.5 251.2" fill="none" stroke="#383838" stroke-width="9.4" stroke-linecap="round" stroke-linejoin="round"/>
<path d="M119.7 238.4C122.8 239.8 132.9 243.8 138.4 246.5C143.8 249.3 150.0 253.3 152.3 254.7" fill="none" stroke="#b8b8b8" stroke-width="11.3" stroke-linecap="round" stroke-linejoin="round"/>
<path d="M152.3 202.3C153.5 202.7 157.2 203.5 159.3 204.7C161.4 205.8 164.1 208.5 165.1 209.3" fill="none" stroke="#595959" stroke-width="8.2" stroke-linecap="round" stroke-linejoin="round"/>
<path d="M194.2 218.6C196.1 220.1 201.2 223.5 205.8 227.2C210.5 230.9 217.1 236.5 222.1 240.7C227.2 244.9 233.7 250.4 236.1 252.4" fill="none" stroke="#cccccc" stroke-width="11.3" stroke-linecap="round" stroke-linejoin="round"/>
<path d="M205.8 170.9C206.3 174.8 208.5 186.4 208.6 194.2C208.7 201.9 206.7 213.6 206.3 217.5" fill="none" stroke="#cccccc" stroke-width="9.4" stroke-linecap="round" stroke-linejoin="round"/>
<path d="M232.6 224.4C233.5 226.8 236.8 233.7 238.4 238.4C239.9 243.0 241.3 250.0 241.9 252.4" fill="none" stroke="#d1d1d1" stroke-width="9.4" stroke-linecap="round" stroke-linejoin="round"/>
<path d="M119.7 253.5C124.4 254.7 139.1 258.4 147.7 260.5C156.2 262.6 165.1 263.4 170.9 265.8C176.7 268.3 179.5 270.3 182.6 275.2C185.7 280.0 187.5 288.5 189.5 294.9C191.6 301.4 191.5 308.1 194.7 314.0C197.8 319.9 203.2 325.6 208.6 330.3C214.0 334.9 219.9 338.3 227.2 341.9C234.5 345.5 248.2 350.3 252.4 351.9" fill="none" stroke="#c2c2c2" stroke-width="13.8" stroke-linecap="round" stroke-linejoin="round"/>
<path d="M138.4 258.9C141.1 259.4 149.2 260.8 154.6 261.9C160.1 262.9 168.2 264.6 170.9 265.2" fill="none" stroke="#e0e0e0" stroke-width="6.3" stroke-linecap="round" stroke-linejoin="round"/>
<path d="M119.7 271.7C124.4 272.1 139.1 273.1 147.7 274.5C156.2 275.8 167.1 278.9 170.9 279.8" fill="none" stroke="#595959" stroke-width="7.5" stroke-linecap="round" stroke-linejoin="round"/>
<path d="M117.4 283.3C122.5 280.9 139.5 283.7 147.7 285.6C155.8 287.6 162.2 291.0 166.3 294.9C170.3 298.9 173.0 306.6 171.9 309.4C170.7 312.1 164.9 312.5 159.3 311.7C153.7 310.9 145.3 306.6 138.4 304.7C131.4 302.8 120.9 303.6 117.4 300.0C113.9 296.5 112.4 285.7 117.4 283.3Z" fill="#333333"/>
<path d="M119.7 292.6C122.1 293.0 129.1 294.0 133.7 294.9C138.4 295.9 145.3 297.8 147.7 298.4" fill="none" stroke="#1f1f1f" stroke-width="7.5" stroke-linecap="round" stroke-linejoin="round"/>
<path d="M194.2 262.4C194.2 265.8 193.5 276.3 194.2 283.3C194.9 290.3 196.4 297.6 198.4 304.2C200.3 310.8 202.3 317.4 205.8 322.8C209.4 328.3 214.4 332.9 219.8 336.8C225.2 340.7 233.0 343.8 238.4 346.1C243.8 348.4 250.0 350.0 252.4 350.8" fill="none" stroke="#6b6b6b" stroke-width="6.9" stroke-linecap="round" stroke-linejoin="round"/>
</g>
<g filter="url(#z1_6)">
<path d="M182.6 246.1C184.5 248.0 191.1 253.4 194.2 257.7C197.3 262.0 200.0 269.3 201.2 271.7" fill="none" stroke="#575757" stroke-width="3.8" stroke-linecap="round" stroke-linejoin="round"/>
</g>
<g filter="url(#z2_8)">
<path d="M206.3 274.0C209.0 270.1 217.5 275.9 222.1 278.6C226.7 281.4 229.9 285.6 233.7 290.3C237.6 294.9 245.0 301.5 245.4 306.6C245.8 311.6 240.7 318.6 236.1 320.5C231.4 322.5 222.5 321.3 217.5 318.2C212.4 315.1 207.7 309.3 205.8 301.9C204.0 294.5 203.6 277.9 206.3 274.0Z" fill="#474747"/>
<path d="M213.3 288.4C215.0 285.3 219.8 282.6 222.1 283.8C224.4 284.9 224.0 291.5 227.2 295.4C230.4 299.3 240.1 303.5 241.2 307.0C242.3 310.5 237.3 315.2 233.7 316.3C230.2 317.5 223.4 316.3 219.8 314.0C216.1 311.7 213.0 306.6 211.9 302.4C210.8 298.1 211.6 291.5 213.3 288.4Z" fill="#141414"/>
<path d="M239.6 321.7C241.1 319.0 252.2 315.7 254.7 318.2C257.2 320.7 256.2 334.1 254.7 336.8C253.1 339.5 247.9 337.0 245.4 334.5C242.9 332.0 238.0 324.4 239.6 321.7Z" fill="#2e2e2e"/>
</g>
<g filter="url(#z1_6)">
<path d="M132.5 317.7C136.2 319.7 147.1 325.5 154.6 329.8C162.2 334.2 170.2 339.8 177.9 343.8C185.7 347.7 193.4 350.0 201.2 353.6C208.9 357.1 218.2 361.6 224.4 365.2C230.6 368.8 236.1 373.5 238.4 375.2" fill="none" stroke="#333333" stroke-width="5.0" stroke-linecap="round" stroke-linejoin="round"/>
<path d="M129.1 325.2C132.9 327.5 144.6 334.5 152.3 339.1C160.1 343.8 167.8 348.8 175.6 353.1C183.3 357.4 195.0 362.8 198.8 364.7" fill="none" stroke="#808080" stroke-width="3.1" stroke-linecap="round" stroke-linejoin="round"/>
</g>
<g filter="url(#z2_8)">
<path d="M122.1 325.2C123.6 328.7 128.3 337.8 131.4 346.1C134.5 354.4 139.1 370.3 140.7 375.2" fill="none" stroke="#cccccc" stroke-width="6.9" stroke-linecap="round" stroke-linejoin="round"/>
</g>
<g filter="url(#z1_6)">
<path d="M138.4 341.5C140.3 344.2 146.5 352.1 150.0 357.7C153.5 363.4 157.7 372.3 159.3 375.2" fill="none" stroke="#8a8a8a" stroke-width="3.8" stroke-linecap="round" stroke-linejoin="round"/>
<path d="M209.3 359.6C212.6 360.5 221.9 363.0 229.1 364.7C236.3 366.4 248.5 369.0 252.4 369.8" fill="none" stroke="#8a8a8a" stroke-width="3.8" stroke-linecap="round" stroke-linejoin="round"/>
</g>
<g filter="url(#z2_8)">
<path d="M216.3 246.1C218.0 249.6 223.3 261.4 226.8 267.0C230.3 272.6 235.5 277.7 237.2 279.8" fill="none" stroke="#c2c2c2" stroke-width="9.4" stroke-linecap="round" stroke-linejoin="round"/>
<path d="M232.6 246.1C234.3 248.0 239.8 254.6 243.0 257.7C246.3 260.8 250.8 263.5 252.4 264.7" fill="none" stroke="#d1d1d1" stroke-width="10.7" stroke-linecap="round" stroke-linejoin="round"/>
<path d="M205.8 246.1C207.2 248.8 211.3 257.3 214.0 262.4C216.7 267.4 220.8 274.0 222.1 276.3" fill="none" stroke="#808080" stroke-width="6.3" stroke-linecap="round" stroke-linejoin="round"/>
<path d="M243.7 6.2C246.8 7.1 256.2 10.2 262.4 11.6C268.6 12.9 275.5 14.1 281.0 14.4C286.4 14.6 292.6 13.4 294.9 13.2" fill="none" stroke="#2e2e2e" stroke-width="6.9" stroke-linecap="round" stroke-linejoin="round"/>
</g>
<g filter="url(#z1_6)">
<path d="M278.6 6.2C282.1 6.0 293.6 4.1 299.6 5.1C305.6 6.0 311.6 9.3 314.7 12.0C317.8 14.7 317.6 19.8 318.2 21.3" fill="none" stroke="#9e9e9e" stroke-width="3.8" stroke-linecap="round" stroke-linejoin="round"/>
</g>
<g filter="url(#z2_8)">
<path d="M241.4 10.9C246.7 5.9 269.1 16.8 272.8 20.9C276.5 24.9 268.8 30.4 263.5 35.3C258.3 40.2 245.1 54.5 241.4 50.4C237.7 46.3 236.2 15.8 241.4 10.9Z" fill="#bdbdbd"/>
</g>
<g filter="url(#z1_6)">
<path d="M269.8 21.8C269.1 23.1 267.5 27.0 265.8 29.5C264.2 31.9 261.0 35.3 260.0 36.5" fill="none" stroke="#ebebeb" stroke-width="4.4" stroke-linecap="round" stroke-linejoin="round"/>
</g>
<g filter="url(#z2_8)">
<path d="M269.3 31.8C273.6 30.9 286.8 26.7 294.9 26.5C303.1 26.3 310.4 28.4 318.2 30.6C325.9 32.9 332.0 37.5 341.5 39.9C351.0 42.4 369.6 44.2 375.2 45.1" fill="none" stroke="#3d3d3d" stroke-width="8.8" stroke-linecap="round" stroke-linejoin="round"/>
<path d="M243.7 61.4C248.4 58.6 263.1 48.6 271.7 45.1C280.2 41.6 287.2 40.8 294.9 40.4C302.7 40.0 310.4 41.2 318.2 42.7C325.9 44.3 334.5 46.2 341.5 49.7C348.4 53.2 355.2 58.3 360.1 63.7C364.9 69.0 368.8 78.8 370.5 81.8" fill="none" stroke="#2e2e2e" stroke-width="9.4" stroke-linecap="round" stroke-linejoin="round"/>
<path d="M243.7 70.2C248.4 67.4 263.1 57.1 271.7 53.4C280.2 49.8 287.2 48.8 294.9 48.3C302.7 47.9 311.0 48.9 318.2 50.7C325.4 52.4 334.7 57.6 338.0 59.0" fill="none" stroke="#7a7a7a" stroke-width="5.7" stroke-linecap="round" stroke-linejoin="round"/>
<path d="M341.5 1.6C343.0 3.3 347.7 8.9 350.8 12.0C353.9 15.1 356.0 18.5 360.1 20.2C364.1 21.8 372.7 21.5 375.2 21.8" fill="none" stroke="#242424" stroke-width="6.9" stroke-linecap="round" stroke-linejoin="round"/>
<path d="M364.7 -1.9C365.1 -0.4 365.3 5.2 367.0 7.4C368.8 9.5 373.8 10.3 375.2 10.9" fill="none" stroke="#9e9e9e" stroke-width="6.9" stroke-linecap="round" stroke-linejoin="round"/>
<path d="M350.8 31.8C352.7 31.5 358.3 31.3 362.4 30.2C366.5 29.0 373.1 25.7 375.2 24.8" fill="none" stroke="#9e9e9e" stroke-width="8.2" stroke-linecap="round" stroke-linejoin="round"/>
<path d="M357.7 55.1L375.2 56.2" fill="none" stroke="#757575" stroke-width="6.9" stroke-linecap="round" stroke-linejoin="round"/>
<path d="M291.4 74.8C291.8 78.7 292.2 91.1 293.8 98.1C295.3 105.1 298.6 111.3 300.7 116.7C302.9 122.2 305.6 128.4 306.6 130.7" fill="none" stroke="#757575" stroke-width="10.7" stroke-linecap="round" stroke-linejoin="round"/>
</g>
<g filter="url(#z1_6)">
<path d="M294.9 88.8C296.1 91.5 298.4 100.0 301.9 105.1C305.4 110.1 311.6 115.4 315.9 119.0C320.1 122.7 325.6 125.8 327.5 127.2" fill="none" stroke="#a3a3a3" stroke-width="3.1" stroke-linecap="round" stroke-linejoin="round"/>
</g>
<g filter="url(#z2_8)">
<path d="M346.1 121.4C348.4 120.6 355.2 118.7 360.1 116.7C364.9 114.8 372.7 110.9 375.2 109.7" fill="none" stroke="#383838" stroke-width="12.6" stroke-linecap="round" stroke-linejoin="round"/>
<path d="M241.4 148.8C244.5 146.9 256.0 148.3 260.0 149.1C264.1 149.8 265.9 151.5 265.6 153.2C265.3 155.0 262.2 158.6 258.2 159.8C254.1 161.0 244.2 162.3 241.4 160.5C238.6 158.6 238.3 150.7 241.4 148.8Z" fill="#141414"/>
<path d="M243.7 165.8C246.8 166.4 256.3 168.1 262.4 169.1C268.4 170.0 276.9 171.0 279.8 171.4" fill="none" stroke="#575757" stroke-width="6.9" stroke-linecap="round" stroke-linejoin="round"/>
<path d="M241.4 181.4C244.9 177.9 256.5 185.5 262.4 188.4C268.2 191.3 273.2 195.7 276.3 198.8C279.4 201.9 282.3 204.7 281.0 207.0C279.6 209.2 274.8 212.0 268.2 212.3C261.6 212.7 245.9 214.5 241.4 209.3C237.0 204.2 237.9 184.9 241.4 181.4Z" fill="#333333"/>
<path d="M257.7 203.5C259.6 204.0 266.0 205.9 269.3 206.3C272.6 206.7 276.1 205.9 277.5 205.8" fill="none" stroke="#1a1a1a" stroke-width="7.5" stroke-linecap="round" stroke-linejoin="round"/>
<path d="M277.5 119.7C277.9 123.6 278.0 136.0 279.8 143.0C281.6 150.0 284.7 156.1 288.4 161.6C292.2 167.1 297.4 171.8 302.4 176.0C307.3 180.3 315.6 185.4 318.2 187.2" fill="none" stroke="#c2c2c2" stroke-width="13.2" stroke-linecap="round" stroke-linejoin="round"/>
<path d="M287.9 161.6C289.1 162.8 292.4 166.5 294.9 168.6C297.4 170.7 301.7 173.4 303.1 174.4" fill="none" stroke="#d6d6d6" stroke-width="12.6" stroke-linecap="round" stroke-linejoin="round"/>
<path d="M243.7 170.9C247.6 172.2 260.0 176.0 267.0 178.4C274.0 180.8 280.5 183.2 285.6 185.4C290.7 187.5 293.0 189.6 297.7 191.2C302.5 192.7 308.6 192.5 314.0 194.7C319.4 196.8 324.7 200.1 330.3 204.0C335.8 207.8 344.4 215.6 347.3 217.9" fill="none" stroke="#c2c2c2" stroke-width="11.9" stroke-linecap="round" stroke-linejoin="round"/>
<path d="M290.3 187.2C291.5 187.9 295.0 190.4 297.7 191.2C300.4 191.9 305.1 191.8 306.6 191.9" fill="none" stroke="#d6d6d6" stroke-width="9.4" stroke-linecap="round" stroke-linejoin="round"/>
<path d="M293.8 133.7C296.3 137.2 303.7 147.7 308.9 154.6C314.1 161.6 319.7 169.0 325.2 175.6C330.6 182.2 338.7 191.1 341.5 194.2" fill="none" stroke="#a8a8a8" stroke-width="7.5" stroke-linecap="round" stroke-linejoin="round"/>
<path d="M300.7 122.1C303.7 124.8 312.9 132.2 318.2 138.4C323.5 144.6 327.9 152.6 332.6 159.3C337.3 166.0 341.9 172.9 346.6 178.4C351.2 183.9 355.8 187.7 360.5 192.3C365.3 197.0 372.7 204.0 375.2 206.3" fill="none" stroke="#3d3d3d" stroke-width="10.1" stroke-linecap="round" stroke-linejoin="round"/>
<path d="M350.8 185.4C352.7 186.8 358.3 191.0 362.4 194.2C366.5 197.4 373.1 202.9 375.2 204.7" fill="none" stroke="#292929" stroke-width="6.9" stroke-linecap="round" stroke-linejoin="round"/>
</g>
<g filter="url(#z1_6)">
<path d="M324.0 123.2C326.9 124.6 335.4 130.4 341.5 131.4C347.5 132.3 354.4 130.4 360.1 129.1C365.7 127.7 372.7 124.2 375.2 123.2" fill="none" stroke="#c2c2c2" stroke-width="3.1" stroke-linecap="round" stroke-linejoin="round"/>
</g>
<g filter="url(#z2_8)">
<path d="M340.3 147.7C340.9 143.0 351.3 144.6 357.7 144.2C364.1 143.8 375.2 139.3 378.7 145.3C382.2 151.3 382.8 175.8 378.7 180.2C374.6 184.7 360.7 177.5 354.3 172.1C347.9 166.7 339.7 152.3 340.3 147.7Z" fill="#bdbdbd"/>
<path d="M364.7 163.9C365.9 164.7 369.4 167.4 371.7 168.6C374.0 169.8 377.5 170.5 378.7 170.9" fill="none" stroke="#ebebeb" stroke-width="8.2" stroke-linecap="round" stroke-linejoin="round"/>
<path d="M346.1 201.2C348.4 203.1 355.0 209.3 360.1 212.8C365.1 216.3 373.6 220.6 376.4 222.1" fill="none" stroke="#575757" stroke-width="12.6" stroke-linecap="round" stroke-linejoin="round"/>
<path d="M243.7 215.1C248.4 215.6 263.1 217.8 271.7 217.9C280.2 218.0 287.2 216.8 294.9 215.6C302.7 214.4 311.0 211.7 318.2 210.9C325.4 210.2 334.7 210.9 338.0 210.9" fill="none" stroke="#424242" stroke-width="7.5" stroke-linecap="round" stroke-linejoin="round"/>
<path d="M243.7 227.9C248.4 228.2 263.1 229.7 271.7 229.6C280.2 229.4 287.2 228.4 294.9 227.2C302.7 226.1 311.4 223.2 318.2 222.6C325.0 221.9 331.8 221.7 335.6 223.3C339.5 224.8 341.1 227.0 341.5 231.9C341.8 236.7 338.6 248.9 338.0 252.4" fill="none" stroke="#c7c7c7" stroke-width="14.4" stroke-linecap="round" stroke-linejoin="round"/>
<path d="M294.9 231.9C297.3 231.9 304.2 232.3 308.9 231.9C313.5 231.4 320.5 229.6 322.8 229.1" fill="none" stroke="#dbdbdb" stroke-width="6.3" stroke-linecap="round" stroke-linejoin="round"/>
<path d="M243.7 241.9L262.4 240.7" fill="none" stroke="#808080" stroke-width="7.5" stroke-linecap="round" stroke-linejoin="round"/>
<path d="M269.3 245.4C272.1 246.0 280.6 247.7 285.6 248.9C290.7 250.0 297.3 251.8 299.6 252.4" fill="none" stroke="#3d3d3d" stroke-width="8.2" stroke-linecap="round" stroke-linejoin="round"/>
<path d="M348.9 236.5C354.4 232.9 373.7 229.6 378.7 232.6C383.6 235.6 384.2 251.0 378.7 254.7C373.2 258.4 350.6 257.7 345.6 254.7C340.7 251.7 343.4 240.2 348.9 236.5Z" fill="#242424"/>
<path d="M285.6 241.4C288.1 239.0 305.2 238.7 310.1 241.4C314.9 244.1 317.2 255.3 314.7 257.7C312.2 260.1 299.8 258.6 294.9 255.8C290.1 253.1 283.1 243.8 285.6 241.4Z" fill="#3d3d3d"/>
<path d="M246.1 247.2C247.6 248.6 253.1 252.9 255.4 255.4C257.7 257.9 259.3 261.2 260.0 262.4" fill="none" stroke="#a8a8a8" stroke-width="9.4" stroke-linecap="round" stroke-linejoin="round"/>
<path d="M270.5 246.1C271.9 247.2 275.0 250.7 278.6 253.1C282.3 255.4 287.6 257.7 292.6 260.0C297.6 262.4 306.2 265.8 308.9 267.0" fill="none" stroke="#616161" stroke-width="7.5" stroke-linecap="round" stroke-linejoin="round"/>
<path d="M340.3 244.9C341.3 248.6 343.2 260.2 346.6 267.0C349.9 273.8 355.6 280.8 360.5 285.6C365.5 290.5 373.7 294.3 376.4 296.1" fill="none" stroke="#333333" stroke-width="10.7" stroke-linecap="round" stroke-linejoin="round"/>
<path d="M350.3 241.4C355.3 239.1 374.0 235.4 378.7 241.4C383.4 247.4 381.7 273.1 378.7 277.5C375.7 281.8 365.5 271.2 360.5 267.5C355.6 263.8 350.6 259.7 348.9 255.4C347.2 251.0 345.3 243.7 350.3 241.4Z" fill="#050505"/>
<path d="M322.4 244.9C324.0 247.8 328.9 256.3 332.2 262.4C335.4 268.4 338.4 275.5 341.9 281.0C345.5 286.4 347.8 289.3 353.6 294.9C359.3 300.6 372.6 311.4 376.4 314.7" fill="none" stroke="#c7c7c7" stroke-width="10.1" stroke-linecap="round" stroke-linejoin="round"/>
</g>
<g filter="url(#z1_6)">
<path d="M350.8 290.7C352.7 292.2 358.1 296.9 362.4 299.6C366.7 302.3 374.0 305.8 376.4 307.0" fill="none" stroke="#fafafa" stroke-width="3.8" stroke-linecap="round" stroke-linejoin="round"/>
</g>
<g filter="url(#z2_8)">
<path d="M363.6 318.2L376.4 329.8" fill="none" stroke="#595959" stroke-width="9.4" stroke-linecap="round" stroke-linejoin="round"/>
</g>
<g filter="url(#z1_6)">
<path d="M261.2 262.8C266.8 264.3 284.3 266.3 294.9 271.7C305.6 277.0 316.6 286.4 325.2 294.9C333.7 303.5 341.0 315.0 346.1 322.8C351.2 330.7 354.3 338.7 355.9 341.9" fill="none" stroke="#8c8c8c" stroke-width="3.5" stroke-linecap="round" stroke-linejoin="round"/>
<path d="M318.2 283.3C321.5 287.2 332.5 298.8 338.0 306.6C343.4 314.3 349.0 323.2 350.8 329.8C352.5 336.4 348.8 343.4 348.4 346.1" fill="none" stroke="#949494" stroke-width="3.1" stroke-linecap="round" stroke-linejoin="round"/>
</g>
<g filter="url(#z2_8)">
<path d="M251.9 269.3C252.2 275.5 252.2 298.4 253.5 306.6C254.9 314.7 258.9 316.3 260.0 318.2" fill="none" stroke="#808080" stroke-width="6.9" stroke-linecap="round" stroke-linejoin="round"/>
<path d="M241.4 312.4C244.1 309.0 254.1 314.8 257.7 317.7C261.3 320.6 263.1 326.5 262.8 329.8C262.5 333.2 259.4 336.4 255.8 337.7C252.3 339.1 243.8 342.2 241.4 338.0C239.0 333.7 238.7 315.8 241.4 312.4Z" fill="#333333"/>
<path d="M243.7 345.6C248.4 346.6 261.2 349.5 271.7 351.2C282.1 352.9 294.9 354.8 306.6 355.9C318.2 357.0 331.6 358.6 341.5 357.7C351.3 356.9 361.8 351.9 365.9 350.8" fill="none" stroke="#b8b8b8" stroke-width="8.2" stroke-linecap="round" stroke-linejoin="round"/>
<path d="M243.7 358.2C250.3 359.0 270.9 361.7 283.3 362.9C295.7 364.0 308.1 363.1 318.2 365.2C328.3 367.2 339.5 373.5 343.8 375.2" fill="none" stroke="#575757" stroke-width="6.9" stroke-linecap="round" stroke-linejoin="round"/>
<path d="M327.5 364.3C329.8 365.1 336.8 367.4 341.5 369.4C346.1 371.4 353.1 375.2 355.4 376.4" fill="none" stroke="#383838" stroke-width="7.5" stroke-linecap="round" stroke-linejoin="round"/>
<path d="M243.7 369.4C248.4 369.8 263.1 370.5 271.7 371.7C280.2 372.9 291.1 375.6 294.9 376.4" fill="none" stroke="#a6a6a6" stroke-width="6.9" stroke-linecap="round" stroke-linejoin="round"/>
<path d="M-6.6 174.4C-1.5 174.3 15.3 173.6 23.7 173.7C32.0 173.8 40.1 174.9 43.4 175.1" fill="none" stroke="#d1d1d1" stroke-width="25.1" stroke-linecap="round" stroke-linejoin="round"/>
<path d="M-6.6 170.9C-1.5 170.7 15.5 169.7 23.7 169.8C31.8 169.8 39.2 171.1 42.3 171.4" fill="none" stroke="#ffffff" stroke-width="10.7" stroke-linecap="round" stroke-linejoin="round"/>
<path d="M79.0 305.4C82.2 302.6 91.8 302.8 98.1 306.1C104.4 309.4 111.9 318.3 116.7 325.2C121.6 332.0 128.4 343.6 127.2 347.3C126.0 350.9 116.1 348.3 109.7 347.0C103.3 345.8 93.9 343.6 88.8 339.6C83.7 335.6 80.7 328.5 79.0 322.8C77.4 317.1 75.9 308.2 79.0 305.4Z" fill="#cccccc"/>
<path d="M85.5 321.0C86.3 318.5 94.1 316.7 98.1 317.7C102.1 318.7 106.9 323.4 109.7 327.0C112.6 330.7 116.1 337.8 115.3 339.6C114.6 341.4 108.7 338.9 105.1 337.7C101.4 336.6 96.7 335.4 93.5 332.6C90.2 329.8 84.8 323.5 85.5 321.0Z" fill="#ffffff"/>
<path d="M-6.6 305.4C-3.1 307.3 8.2 313.2 14.4 317.0C20.6 320.9 25.4 324.8 30.6 328.7C35.9 332.5 41.1 337.0 45.8 340.3C50.4 343.6 56.4 347.1 58.6 348.4" fill="none" stroke="#c7c7c7" stroke-width="19.5" stroke-linecap="round" stroke-linejoin="round"/>
<path d="M-6.6 303.8C-3.1 305.7 8.2 311.4 14.4 315.4C20.6 319.4 25.6 323.6 30.6 327.5C35.7 331.4 40.8 335.6 44.6 338.7C48.4 341.7 52.0 344.5 53.4 345.6" fill="none" stroke="#ffffff" stroke-width="10.1" stroke-linecap="round" stroke-linejoin="round"/>
<path d="M141.8 169.8C145.9 167.4 157.9 162.2 166.3 155.8C174.6 149.4 187.6 135.5 191.9 131.4" fill="none" stroke="#c7c7c7" stroke-width="22.0" stroke-linecap="round" stroke-linejoin="round"/>
<path d="M155.8 166.7C157.6 165.1 162.7 160.3 166.7 157.0C170.8 153.6 176.4 149.9 180.2 146.7C184.1 143.6 188.4 139.4 190.0 137.9" fill="none" stroke="#ffffff" stroke-width="9.4" stroke-linecap="round" stroke-linejoin="round"/>
<path d="M174.4 182.6C177.5 177.7 183.9 169.4 189.5 167.4C195.2 165.5 205.0 166.5 208.2 170.9C211.3 175.4 209.8 186.4 208.6 194.2C207.5 201.9 204.7 213.0 201.2 217.5C197.6 221.9 191.7 222.1 187.2 220.9C182.8 219.8 177.1 214.6 174.4 210.5C171.7 206.4 170.9 201.2 170.9 196.5C170.9 191.9 171.3 187.4 174.4 182.6Z" fill="#d1d1d1"/>
<path d="M182.6 178.4C185.3 175.9 190.5 172.7 194.2 172.1C197.9 171.5 203.3 171.7 204.9 174.7C206.5 177.6 205.3 183.6 204.0 189.5C202.6 195.5 199.4 206.1 197.0 210.5C194.6 214.8 192.3 215.5 189.5 215.6C186.7 215.7 182.6 213.7 180.2 210.9C177.9 208.2 176.0 202.8 175.6 198.8C175.2 194.9 176.7 190.6 177.9 187.2C179.1 183.8 179.8 180.9 182.6 178.4Z" fill="#ffffff"/>
</g>
<g filter="url(#z1_6)">
<path d="M243.7 116.7C246.8 116.4 257.3 114.1 262.4 114.9C267.4 115.6 272.1 120.3 274.0 121.4" fill="none" stroke="#9e9e9e" stroke-width="4.4" stroke-linecap="round" stroke-linejoin="round"/>
</g>
<g filter="url(#z2_8)">
<path d="M262.8 287.9C265.2 281.2 272.5 276.9 278.6 275.2C284.8 273.4 293.0 274.8 299.6 277.5C306.2 280.2 313.7 285.8 318.2 291.4C322.7 297.1 326.3 305.4 326.3 311.2C326.3 317.0 323.4 322.5 318.2 326.3C313.0 330.1 301.9 333.4 294.9 334.0C287.9 334.7 281.4 333.3 276.3 330.3C271.3 327.3 266.9 322.9 264.7 315.9C262.4 308.8 260.5 294.7 262.8 287.9Z" fill="#dbdbdb"/>
<path d="M269.3 290.3C271.3 287.5 274.4 284.1 278.6 283.3C282.9 282.5 289.9 283.7 294.9 285.6C300.0 287.6 305.3 291.1 308.9 294.9C312.5 298.8 315.9 305.0 316.3 308.9C316.8 312.8 315.2 315.4 311.7 318.2C308.1 321.0 300.0 324.8 294.9 325.6C289.8 326.5 285.0 325.6 281.0 323.3C276.9 321.0 272.8 315.6 270.5 311.7C268.2 307.8 267.2 303.6 267.0 300.0C266.8 296.5 267.4 293.1 269.3 290.3Z" fill="#ffffff"/>
<path d="M40.4 80.4C43.4 78.4 52.7 71.8 58.4 68.4C64.2 65.0 72.2 61.5 74.9 60.2" fill="none" stroke="#b8b8b8" stroke-width="8.1" stroke-linecap="round" stroke-linejoin="round"/>
<path d="M127.5 60.2C122.2 61.5 104.9 65.3 95.9 68.4C86.9 71.5 79.7 75.4 73.4 78.9C67.2 82.4 62.4 85.9 58.4 89.4C54.4 92.9 50.9 98.2 49.4 99.9" fill="none" stroke="#3d3d3d" stroke-width="7.3" stroke-linecap="round" stroke-linejoin="round"/>
<path d="M46.4 95.4C49.7 92.9 59.4 84.4 65.9 80.4C72.4 76.4 78.9 73.7 85.4 71.4C91.9 69.1 101.7 67.4 104.9 66.6" fill="none" stroke="#b2b2b2" stroke-width="6.1" stroke-linecap="round" stroke-linejoin="round"/>
<path d="M127.5 67.7C123.5 68.8 111.2 71.5 103.4 74.4C95.7 77.3 87.7 81.4 80.9 84.9C74.2 88.4 66.9 92.4 62.9 95.4C59.0 98.4 57.5 100.4 57.2 102.9C57.0 105.4 59.5 107.7 61.4 110.4C63.4 113.2 66.7 116.2 68.9 119.4C71.2 122.7 73.0 126.3 74.9 129.9C76.8 133.6 79.3 139.3 80.2 141.2" fill="none" stroke="#2e2e2e" stroke-width="8.9" stroke-linecap="round" stroke-linejoin="round"/>
<path d="M82.7 87.9C81.3 89.6 76.2 94.6 74.2 98.1C72.2 101.6 71.3 107.1 70.7 108.9" fill="none" stroke="#c2c2c2" stroke-width="10.1" stroke-linecap="round" stroke-linejoin="round"/>
<path d="M92.9 91.7C93.8 91.2 96.4 89.6 98.2 88.7C99.9 87.7 102.6 86.4 103.4 86.0" fill="none" stroke="#dbdbdb" stroke-width="4.9" stroke-linecap="round" stroke-linejoin="round"/>
<path d="M88.4 102.9C90.4 101.7 96.2 97.9 100.4 95.4C104.7 92.9 109.4 90.2 113.9 87.9C118.4 85.7 125.2 82.9 127.5 81.9" fill="none" stroke="#383838" stroke-width="8.1" stroke-linecap="round" stroke-linejoin="round"/>
<path d="M92.9 106.7C91.6 108.3 86.4 112.8 84.7 116.4C83.0 120.1 82.5 124.3 82.7 128.4C83.0 132.6 85.6 139.1 86.2 141.2" fill="none" stroke="#cccccc" stroke-width="8.9" stroke-linecap="round" stroke-linejoin="round"/>
<path d="M82.7 122.4C82.9 123.9 83.2 128.3 83.9 131.4C84.7 134.6 86.7 139.6 87.2 141.2" fill="none" stroke="#ffffff" stroke-width="4.5" stroke-linecap="round" stroke-linejoin="round"/>
<path d="M40.4 111.9C42.1 108.4 47.8 109.1 50.9 109.7C54.0 110.3 57.5 113.1 59.2 115.7C60.9 118.3 61.9 122.8 61.1 125.4C60.4 128.1 58.1 130.9 54.7 131.7C51.2 132.6 42.8 134.0 40.4 130.7C38.0 127.4 38.6 115.4 40.4 111.9Z" fill="#d9d9d9"/>
<path d="M112.8 94.1C117.6 91.4 127.2 87.3 133.8 86.2C140.4 85.1 147.4 86.0 152.2 87.5C157.0 89.0 159.0 93.4 162.7 95.4C166.4 97.3 170.6 99.3 174.5 99.3C178.5 99.3 182.2 97.8 186.3 95.4C190.5 93.0 195.1 89.9 199.5 84.9C203.9 79.8 208.2 67.1 212.6 65.2C217.0 63.2 227.1 65.2 225.7 73.0C224.4 80.9 211.7 102.4 204.7 112.4C197.7 122.5 190.3 128.2 183.7 133.5C177.2 138.7 171.0 141.1 165.3 144.0C159.6 146.8 154.6 148.8 149.6 150.5C144.5 152.3 140.4 154.7 135.1 154.5C129.9 154.2 123.1 152.7 118.1 149.2C113.0 145.7 107.6 139.1 104.9 133.5C102.2 127.8 101.8 120.3 101.8 115.1C101.8 109.8 103.1 105.4 104.9 101.9C106.8 98.4 108.0 96.7 112.8 94.1Z" fill="#2e2e2e"/>
<path d="M104.4 109.8C104.1 112.9 101.9 122.3 102.8 128.2C103.7 134.1 106.5 140.5 109.6 145.3C112.8 150.1 117.3 154.5 122.0 157.1C126.7 159.7 135.1 160.4 137.8 161.0" fill="none" stroke="#1f1f1f" stroke-width="10.6" stroke-linecap="round" stroke-linejoin="round"/>
<path d="M99.7 109.8C99.3 112.9 96.8 121.6 97.6 128.2C98.4 134.8 100.8 143.3 104.4 149.2C108.0 155.1 114.2 160.4 119.4 163.7C124.5 166.9 132.5 168.0 135.1 168.9" fill="none" stroke="#3d3d3d" stroke-width="7.8" stroke-linecap="round" stroke-linejoin="round"/>
</g>
<g filter="url(#z1_6)">
<path d="M105.4 115.1C105.4 117.7 104.2 125.6 105.4 130.8C106.7 136.1 109.4 142.4 112.8 146.6C116.2 150.7 121.6 154.0 125.9 155.8C130.3 157.5 136.9 156.9 139.1 157.1" fill="none" stroke="#707070" stroke-width="2.8" stroke-linecap="round" stroke-linejoin="round"/>
</g>
<g filter="url(#z2_8)">
<path d="M224.9 42.3C224.9 39.9 225.8 31.7 224.9 28.3C224.0 24.9 220.6 22.9 219.8 21.8" fill="none" stroke="#242424" stroke-width="12.6" stroke-linecap="round" stroke-linejoin="round"/>
<path d="M176.7 121.4C179.3 118.3 187.2 109.0 191.9 102.8C196.5 96.6 200.6 90.9 204.7 84.2C208.7 77.4 213.1 68.6 216.3 62.1C219.5 55.5 222.5 48.7 224.0 44.6C225.5 40.5 225.1 38.8 225.4 37.6" fill="none" stroke="#000000" stroke-width="18.8" stroke-linecap="round" stroke-linejoin="round"/>
<path d="M118.1 99.3C121.8 97.3 128.6 93.6 133.8 92.7C139.1 91.9 145.2 92.5 149.6 94.1C154.0 95.6 156.1 100.0 160.1 101.9C164.0 103.9 168.8 105.9 173.2 105.9C177.6 105.9 182.0 104.3 186.3 101.9C190.7 99.5 195.5 95.4 199.5 91.4C203.4 87.5 207.1 82.0 210.0 78.3C212.8 74.6 214.8 68.2 216.6 69.1C218.3 70.0 223.8 76.3 220.5 83.5C217.2 90.8 203.9 105.0 196.9 112.4C189.8 119.9 184.2 124.3 178.5 128.2C172.8 132.1 168.0 133.9 162.7 136.1C157.5 138.3 151.8 140.0 146.9 141.3C142.1 142.6 138.2 144.4 133.8 144.0C129.4 143.5 124.4 141.3 120.7 138.7C117.0 136.1 113.5 132.1 111.5 128.2C109.5 124.3 108.9 119.0 108.9 115.1C108.9 111.1 110.0 107.2 111.5 104.6C113.0 101.9 114.3 101.3 118.1 99.3Z" fill="#000000"/>
<path d="M231.3 89.1C236.3 83.3 242.2 76.6 249.2 74.1C256.2 71.7 267.6 71.2 273.1 74.1C278.5 77.1 280.0 84.6 282.0 92.0C284.0 99.5 286.5 112.4 285.0 118.9C283.5 125.4 280.0 128.8 273.1 130.8C266.1 132.8 251.7 131.1 243.2 130.8C234.8 130.6 226.3 133.1 222.3 129.3C218.4 125.6 217.9 115.2 219.4 108.5C220.9 101.7 226.3 94.8 231.3 89.1Z" fill="#c7c7c7"/>
<path d="M277.5 118.9C278.9 123.9 281.8 139.8 285.6 148.7C289.4 157.7 295.4 166.1 300.5 172.6C305.6 179.1 313.7 185.0 316.3 187.5" fill="none" stroke="#c7c7c7" stroke-width="17.7" stroke-linecap="round" stroke-linejoin="round"/>
<path d="M243.2 89.1C245.7 87.8 253.2 82.1 258.1 81.6C263.1 81.1 270.6 85.3 273.1 86.1" fill="none" stroke="#dbdbdb" stroke-width="12.1" stroke-linecap="round" stroke-linejoin="round"/>
<path d="M237.3 97.4C239.9 93.5 248.0 87.7 253.7 86.1C259.4 84.5 267.2 85.4 271.6 87.9C275.9 90.4 279.4 96.6 279.6 101.0C279.9 105.4 277.9 111.8 273.1 114.4C268.2 117.0 256.6 117.4 250.7 116.5C244.8 115.7 240.1 112.5 237.9 109.3C235.6 106.2 234.6 101.3 237.3 97.4Z" fill="#ebebeb"/>
<path d="M240.2 98.0C242.6 95.0 249.7 90.3 254.6 89.1C259.4 87.9 265.9 88.9 269.5 90.9C273.1 92.8 275.9 97.6 276.0 101.0C276.1 104.4 274.2 109.1 270.1 111.1C266.0 113.1 256.6 113.6 251.6 112.9C246.6 112.2 242.1 109.4 240.2 107.0C238.4 104.5 237.9 101.0 240.2 98.0Z" fill="#ffffff"/>
<path d="M292.5 84.6C293.9 81.6 296.7 70.7 301.4 66.7C306.1 62.7 314.0 60.5 320.8 60.4C327.6 60.4 336.7 62.1 342.3 66.4C347.8 70.7 352.7 79.2 354.2 86.1C355.7 92.9 354.2 101.5 351.2 107.6C348.2 113.6 341.9 120.3 336.3 122.5C330.7 124.6 320.9 120.7 317.8 120.4" fill="none" stroke="#292929" stroke-width="12.1" stroke-linecap="round" stroke-linejoin="round"/>
<path d="M305.9 74.1C308.2 71.3 313.3 67.4 317.8 66.7C322.3 65.9 328.9 66.9 332.7 69.7C336.5 72.4 339.4 77.9 340.5 83.1C341.5 88.3 340.8 95.9 339.0 101.0C337.2 106.1 333.3 111.9 329.7 113.5C326.2 115.1 321.3 113.5 317.8 110.5C314.3 107.6 311.1 100.1 308.9 95.6C306.6 91.2 304.6 87.3 304.1 83.7C303.6 80.1 303.6 77.0 305.9 74.1Z" fill="#000000"/>
</g>
</g></svg>
<rect x="826.6" y="100.6" width="372.0" height="372.0" fill="none" stroke="#000" stroke-width="1.1"/>
<rect x="1224.5" y="100.6" width="19.1" height="372.0" fill="url(#cbg)" stroke="#000" stroke-width="1.1"/>
<path d="M1243.6 100.6h5.4" stroke="#000" stroke-width="1.1"/>
<text x="1254.8" y="108.2" font-size="20.6">5</text>
<path d="M1243.6 286.6h5.4" stroke="#000" stroke-width="1.1"/>
<text x="1254.8" y="294.2" font-size="20.6">0</text>
<path d="M1243.6 472.6h5.4" stroke="#000" stroke-width="1.1"/>
<text x="1254.8" y="480.2" font-size="20.6">−5</text>
<text transform="translate(1298.4,286.6) rotate(-90)" font-size="20" text-anchor="middle">vorticity</text>
</svg>
</body></html>
